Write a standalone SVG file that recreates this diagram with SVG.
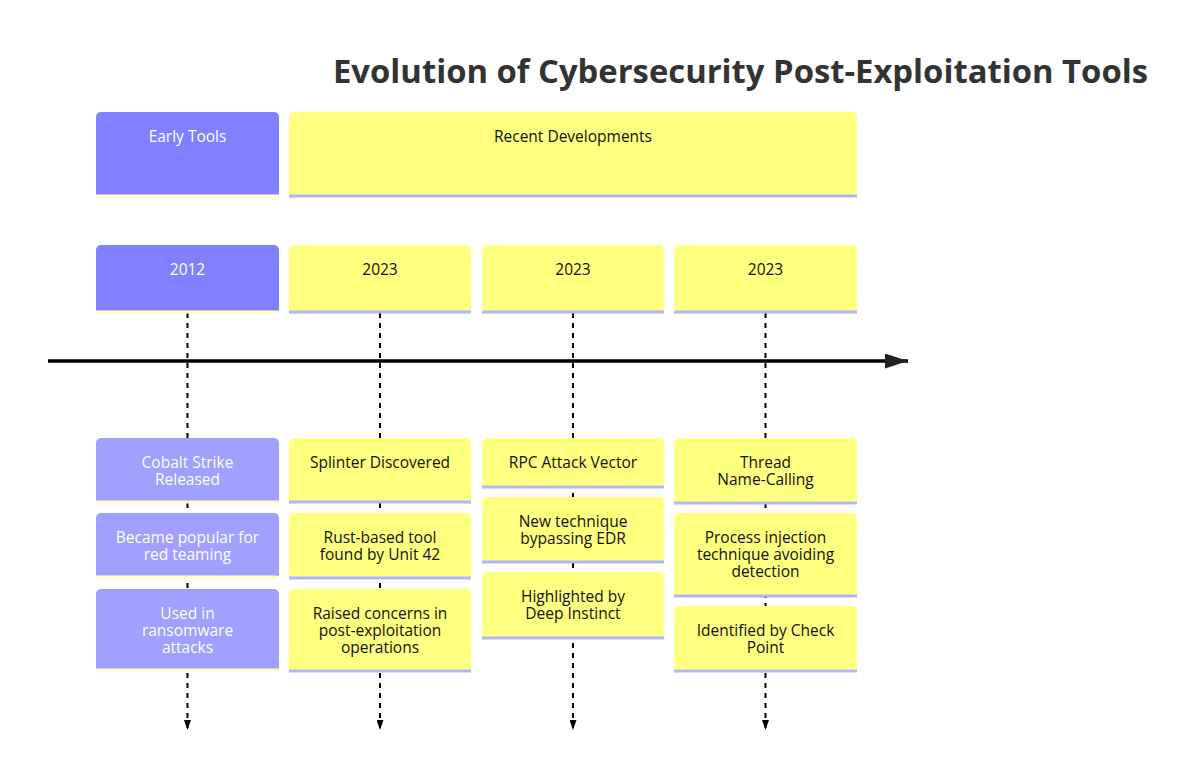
<svg xmlns="http://www.w3.org/2000/svg" width="1200" height="777" viewBox="0 0 1200 777">
<style>
  text { font-family: "Open Sans", "Liberation Sans", sans-serif; font-size: 15.5px; text-anchor: middle; }
  .p rect.b { fill: #8080ff; }
  .pe rect.b { fill: #a0a0ff; }
  .y rect.b { fill: #ffff80; }
  .p text, .pe text { fill: #ffffff; }
  .y text { fill: #111111; }
  .p line.s, .pe line.s { stroke: #ffffbf; stroke-width: 3; }
  .y line.s { stroke: #b3b3ff; stroke-width: 3; }
  .dash { stroke: #000; stroke-width: 2; stroke-dasharray: 5 5; fill: none; }
  .title { font-size: 32.8px; font-weight: bold; fill: #333333; text-anchor: start; }
</style>
<defs>
  <marker id="ah" viewBox="0 0 10 10" refX="10" refY="5" markerWidth="10" markerHeight="7" markerUnits="userSpaceOnUse" orient="auto" preserveAspectRatio="none">
    <path d="M0,0 L10,5 L0,10 z" fill="#000"/>
  </marker>
  <marker id="big" viewBox="0 0 10 10" refX="10" refY="5" markerWidth="23" markerHeight="15" markerUnits="userSpaceOnUse" orient="auto" preserveAspectRatio="none">
    <path d="M0,0 L10,5 L0,10 z" fill="#222"/>
  </marker>
</defs>
<text class="title" x="333" y="83">Evolution of Cybersecurity Post-Exploitation Tools</text>
<g id="connectors">
  <line class="dash" x1="187.5" y1="313" x2="187.5" y2="730" marker-end="url(#ah)"/>
  <line class="dash" x1="380" y1="313" x2="380" y2="730" marker-end="url(#ah)"/>
  <line class="dash" x1="573" y1="313" x2="573" y2="730" marker-end="url(#ah)"/>
  <line class="dash" x1="765.5" y1="313" x2="765.5" y2="730" marker-end="url(#ah)"/>
  <line x1="48" y1="361" x2="908" y2="361" stroke="#000" stroke-width="3.5" marker-end="url(#big)"/>
</g>
<g id="sec-early" class="p">
  <rect class="b" x="96" y="112" width="183" height="84" rx="5"/>
  <rect x="96" y="190" width="183" height="6" fill="#8080ff"/>
  <line class="s" x1="96" y1="196" x2="279" y2="196"/>
  <text x="187.5" y="142">Early Tools</text>
</g>
<g id="sec-recent" class="y">
  <rect class="b" x="289" y="112" width="568" height="84" rx="5"/>
  <rect x="289" y="190" width="568" height="6" fill="#ffff80"/>
  <line class="s" x1="289" y1="196" x2="857" y2="196"/>
  <text x="573" y="142">Recent Developments</text>
</g>
<g id="year-2012" class="p">
  <rect class="b" x="96" y="245" width="183" height="67" rx="5"/>
  <rect x="96" y="305" width="183" height="7" fill="#8080ff"/>
  <line class="s" x1="96" y1="312" x2="279" y2="312"/>
  <text x="187.5" y="275">2012</text>
</g>
<g id="year-2023a" class="y">
  <rect class="b" x="289" y="245" width="182" height="67" rx="5"/>
  <rect x="289" y="305" width="182" height="7" fill="#ffff80"/>
  <line class="s" x1="289" y1="312" x2="471" y2="312"/>
  <text x="380" y="275">2023</text>
</g>
<g id="year-2023b" class="y">
  <rect class="b" x="482" y="245" width="182" height="67" rx="5"/>
  <rect x="482" y="305" width="182" height="7" fill="#ffff80"/>
  <line class="s" x1="482" y1="312" x2="664" y2="312"/>
  <text x="573" y="275">2023</text>
</g>
<g id="year-2023c" class="y">
  <rect class="b" x="674" y="245" width="183" height="67" rx="5"/>
  <rect x="674" y="305" width="183" height="7" fill="#ffff80"/>
  <line class="s" x1="674" y1="312" x2="857" y2="312"/>
  <text x="765.5" y="275">2023</text>
</g>
<!-- column 1 events -->
<g id="ev-cobalt" class="pe">
  <rect class="b" x="96" y="438" width="183" height="63" rx="5"/>
  <rect x="96" y="494" width="183" height="7" fill="#a0a0ff"/>
  <line class="s" x1="96" y1="502" x2="279" y2="502"/>
  <text x="187.5" y="468">Cobalt Strike</text>
  <text x="187.5" y="485">Released</text>
</g>
<g id="ev-popular" class="pe">
  <rect class="b" x="96" y="513" width="183" height="63" rx="5"/>
  <rect x="96" y="569" width="183" height="7" fill="#a0a0ff"/>
  <line class="s" x1="96" y1="577" x2="279" y2="577"/>
  <text x="187.5" y="543">Became popular for</text>
  <text x="187.5" y="560">red teaming</text>
</g>
<g id="ev-ransom" class="pe">
  <rect class="b" x="96" y="589" width="183" height="80" rx="5"/>
  <rect x="96" y="662" width="183" height="7" fill="#a0a0ff"/>
  <line class="s" x1="96" y1="670" x2="279" y2="670"/>
  <text x="187.5" y="619">Used in</text>
  <text x="187.5" y="636">ransomware</text>
  <text x="187.5" y="653">attacks</text>
</g>
<!-- column 2 events -->
<g id="ev-splinter" class="y">
  <rect class="b" x="289" y="438" width="182" height="63" rx="5"/>
  <rect x="289" y="494" width="182" height="7" fill="#ffff80"/>
  <line class="s" x1="289" y1="502" x2="471" y2="502"/>
  <text x="380" y="468">Splinter Discovered</text>
</g>
<g id="ev-rust" class="y">
  <rect class="b" x="289" y="513" width="182" height="64" rx="5"/>
  <rect x="289" y="570" width="182" height="7" fill="#ffff80"/>
  <line class="s" x1="289" y1="578" x2="471" y2="578"/>
  <text x="380" y="543">Rust-based tool</text>
  <text x="380" y="560">found by Unit 42</text>
</g>
<g id="ev-raised" class="y">
  <rect class="b" x="289" y="589" width="182" height="81" rx="5"/>
  <rect x="289" y="663" width="182" height="7" fill="#ffff80"/>
  <line class="s" x1="289" y1="671" x2="471" y2="671"/>
  <text x="380" y="619">Raised concerns in</text>
  <text x="380" y="636">post-exploitation</text>
  <text x="380" y="653">operations</text>
</g>
<!-- column 3 events -->
<g id="ev-rpc" class="y">
  <rect class="b" x="482" y="438" width="182" height="48" rx="5"/>
  <rect x="482" y="479" width="182" height="7" fill="#ffff80"/>
  <line class="s" x1="482" y1="487" x2="664" y2="487"/>
  <text x="573" y="468">RPC Attack Vector</text>
</g>
<g id="ev-edr" class="y">
  <rect class="b" x="482" y="497" width="182" height="64" rx="5"/>
  <rect x="482" y="554" width="182" height="7" fill="#ffff80"/>
  <line class="s" x1="482" y1="562" x2="664" y2="562"/>
  <text x="573" y="527">New technique</text>
  <text x="573" y="544">bypassing EDR</text>
</g>
<g id="ev-deep" class="y">
  <rect class="b" x="482" y="572" width="182" height="65" rx="5"/>
  <rect x="482" y="630" width="182" height="7" fill="#ffff80"/>
  <line class="s" x1="482" y1="638" x2="664" y2="638"/>
  <text x="573" y="602">Highlighted by</text>
  <text x="573" y="619">Deep Instinct</text>
</g>
<!-- column 4 events -->
<g id="ev-thread" class="y">
  <rect class="b" x="674" y="438" width="183" height="64" rx="5"/>
  <rect x="674" y="495" width="183" height="7" fill="#ffff80"/>
  <line class="s" x1="674" y1="503" x2="857" y2="503"/>
  <text x="765.5" y="468">Thread</text>
  <text x="765.5" y="485">Name-Calling</text>
</g>
<g id="ev-process" class="y">
  <rect class="b" x="674" y="513" width="183" height="82" rx="5"/>
  <rect x="674" y="588" width="183" height="7" fill="#ffff80"/>
  <line class="s" x1="674" y1="596" x2="857" y2="596"/>
  <text x="765.5" y="543">Process injection</text>
  <text x="765.5" y="560">technique avoiding</text>
  <text x="765.5" y="577">detection</text>
</g>
<g id="ev-checkpoint" class="y">
  <rect class="b" x="674" y="606" width="183" height="64" rx="5"/>
  <rect x="674" y="663" width="183" height="7" fill="#ffff80"/>
  <line class="s" x1="674" y1="671" x2="857" y2="671"/>
  <text x="765.5" y="636">Identified by Check</text>
  <text x="765.5" y="653">Point</text>
</g>
</svg>
